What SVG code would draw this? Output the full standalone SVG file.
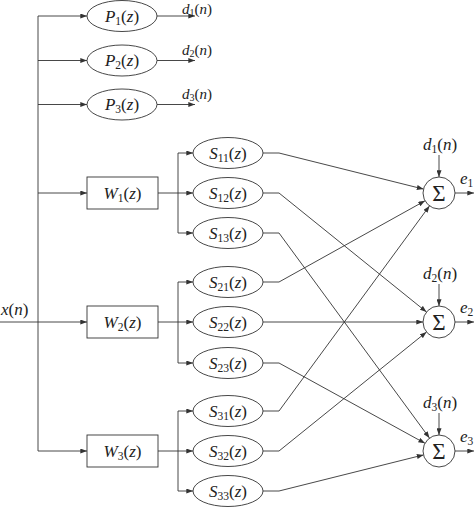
<svg xmlns="http://www.w3.org/2000/svg" width="474" height="508" viewBox="0 0 474 508">
<defs>
<style>
.ln{stroke:#333;stroke-width:0.9;fill:none}
.nd{stroke:#333;stroke-width:0.9;fill:#fff}
text{font-family:"Liberation Serif","DejaVu Serif",serif;font-size:17px;fill:#222}
.i{font-style:italic}
.s{font-size:11.5px}
.sg{font-size:23px}
.dl{font-size:15px}
.dl .s{font-size:10px}
</style>
<marker id="a" viewBox="0 0 8 6" refX="8" refY="3" markerWidth="7" markerHeight="5" orient="auto" markerUnits="userSpaceOnUse"><path d="M0,0 L8,3 L0,6 z" fill="#333"/></marker>
</defs>
<rect width="474" height="508" fill="#fff"/>
<g id="connectors">
<path class="ln" d="M38,16 V451"/>
<path class="ln" d="M38,16 H87" marker-end="url(#a)"/>
<path class="ln" d="M38,60.5 H87" marker-end="url(#a)"/>
<path class="ln" d="M38,104.5 H87" marker-end="url(#a)"/>
<path class="ln" d="M38,193 H87" marker-end="url(#a)"/>
<path class="ln" d="M0,322 H87" marker-end="url(#a)"/>
<path class="ln" d="M38,451 H87" marker-end="url(#a)"/>
<path class="ln" d="M157,16 H195" marker-end="url(#a)"/>
<path class="ln" d="M157,60.5 H195" marker-end="url(#a)"/>
<path class="ln" d="M157,104.5 H195" marker-end="url(#a)"/>
<path class="ln" d="M158,193 H193" marker-end="url(#a)"/>
<path class="ln" d="M178,153 V233"/>
<path class="ln" d="M178,153 H193" marker-end="url(#a)"/>
<path class="ln" d="M178,233 H193" marker-end="url(#a)"/>
<path class="ln" d="M158,322 H193" marker-end="url(#a)"/>
<path class="ln" d="M178,282 V363"/>
<path class="ln" d="M178,282 H193" marker-end="url(#a)"/>
<path class="ln" d="M178,363 H193" marker-end="url(#a)"/>
<path class="ln" d="M158,451 H193" marker-end="url(#a)"/>
<path class="ln" d="M178,411 V491"/>
<path class="ln" d="M178,411 H193" marker-end="url(#a)"/>
<path class="ln" d="M178,491 H193" marker-end="url(#a)"/>
<path class="ln" d="M263,153 H279 L423.5,189.1" marker-end="url(#a)"/>
<path class="ln" d="M263,193 H279 L426.5,312" marker-end="url(#a)"/>
<path class="ln" d="M263,233 H279 L429.5,438.1" marker-end="url(#a)"/>
<path class="ln" d="M263,282 H279 L425,200.8" marker-end="url(#a)"/>
<path class="ln" d="M263,322 H279 L423,322" marker-end="url(#a)"/>
<path class="ln" d="M263,363 H279 L425,443.3" marker-end="url(#a)"/>
<path class="ln" d="M263,411 H279 L429.5,205.9" marker-end="url(#a)"/>
<path class="ln" d="M263,451 H279 L426.5,332" marker-end="url(#a)"/>
<path class="ln" d="M263,491 H279 L423.5,454.9" marker-end="url(#a)"/>
<path class="ln" d="M439,155 V177" marker-end="url(#a)"/>
<path class="ln" d="M439,284 V306" marker-end="url(#a)"/>
<path class="ln" d="M439,413 V435" marker-end="url(#a)"/>
<path class="ln" d="M455,193 H474" marker-end="url(#a)"/>
<path class="ln" d="M455,322 H474" marker-end="url(#a)"/>
<path class="ln" d="M455,451 H474" marker-end="url(#a)"/>
</g>
<g id="x"><text x="1" y="315"><tspan class="i">x</tspan>(<tspan class="i">n</tspan>)</text></g>
<g id="P1"><ellipse class="nd" cx="122" cy="16" rx="35" ry="15.5"/><text x="122" y="21.5" text-anchor="middle"><tspan class="i">P</tspan><tspan class="s" dy="3">1</tspan><tspan dy="-3">(</tspan><tspan class="i">z</tspan>)</text></g>
<g id="P2"><ellipse class="nd" cx="122" cy="60.5" rx="35" ry="15.5"/><text x="122" y="66" text-anchor="middle"><tspan class="i">P</tspan><tspan class="s" dy="3">2</tspan><tspan dy="-3">(</tspan><tspan class="i">z</tspan>)</text></g>
<g id="P3"><ellipse class="nd" cx="122" cy="104.5" rx="35" ry="15.5"/><text x="122" y="110" text-anchor="middle"><tspan class="i">P</tspan><tspan class="s" dy="3">3</tspan><tspan dy="-3">(</tspan><tspan class="i">z</tspan>)</text></g>
<g id="d1out"><text class="dl" x="182" y="13.5"><tspan class="i">d</tspan><tspan class="s" dy="2">1</tspan><tspan dy="-2">(</tspan><tspan class="i">n</tspan>)</text></g>
<g id="d2out"><text class="dl" x="182" y="55"><tspan class="i">d</tspan><tspan class="s" dy="2">2</tspan><tspan dy="-2">(</tspan><tspan class="i">n</tspan>)</text></g>
<g id="d3out"><text class="dl" x="182" y="99"><tspan class="i">d</tspan><tspan class="s" dy="2">3</tspan><tspan dy="-2">(</tspan><tspan class="i">n</tspan>)</text></g>
<g id="W1"><rect class="nd" x="87" y="177" width="71" height="32"/><text x="122.5" y="198.5" text-anchor="middle"><tspan class="i">W</tspan><tspan class="s" dy="3">1</tspan><tspan dy="-3">(</tspan><tspan class="i">z</tspan>)</text></g>
<g id="W2"><rect class="nd" x="87" y="306" width="71" height="32"/><text x="122.5" y="327.5" text-anchor="middle"><tspan class="i">W</tspan><tspan class="s" dy="3">2</tspan><tspan dy="-3">(</tspan><tspan class="i">z</tspan>)</text></g>
<g id="W3"><rect class="nd" x="87" y="435" width="71" height="32"/><text x="122.5" y="456.5" text-anchor="middle"><tspan class="i">W</tspan><tspan class="s" dy="3">3</tspan><tspan dy="-3">(</tspan><tspan class="i">z</tspan>)</text></g>
<g id="S11"><ellipse class="nd" cx="228" cy="153" rx="35" ry="15.5"/><text x="228" y="158.5" text-anchor="middle"><tspan class="i">S</tspan><tspan class="s" dy="3">11</tspan><tspan dy="-3">(</tspan><tspan class="i">z</tspan>)</text></g>
<g id="S12"><ellipse class="nd" cx="228" cy="193" rx="35" ry="15.5"/><text x="228" y="198.5" text-anchor="middle"><tspan class="i">S</tspan><tspan class="s" dy="3">12</tspan><tspan dy="-3">(</tspan><tspan class="i">z</tspan>)</text></g>
<g id="S13"><ellipse class="nd" cx="228" cy="233" rx="35" ry="15.5"/><text x="228" y="238.5" text-anchor="middle"><tspan class="i">S</tspan><tspan class="s" dy="3">13</tspan><tspan dy="-3">(</tspan><tspan class="i">z</tspan>)</text></g>
<g id="S21"><ellipse class="nd" cx="228" cy="282" rx="35" ry="15.5"/><text x="228" y="287.5" text-anchor="middle"><tspan class="i">S</tspan><tspan class="s" dy="3">21</tspan><tspan dy="-3">(</tspan><tspan class="i">z</tspan>)</text></g>
<g id="S22"><ellipse class="nd" cx="228" cy="322" rx="35" ry="15.5"/><text x="228" y="327.5" text-anchor="middle"><tspan class="i">S</tspan><tspan class="s" dy="3">22</tspan><tspan dy="-3">(</tspan><tspan class="i">z</tspan>)</text></g>
<g id="S23"><ellipse class="nd" cx="228" cy="363" rx="35" ry="15.5"/><text x="228" y="368.5" text-anchor="middle"><tspan class="i">S</tspan><tspan class="s" dy="3">23</tspan><tspan dy="-3">(</tspan><tspan class="i">z</tspan>)</text></g>
<g id="S31"><ellipse class="nd" cx="228" cy="411" rx="35" ry="15.5"/><text x="228" y="416.5" text-anchor="middle"><tspan class="i">S</tspan><tspan class="s" dy="3">31</tspan><tspan dy="-3">(</tspan><tspan class="i">z</tspan>)</text></g>
<g id="S32"><ellipse class="nd" cx="228" cy="451" rx="35" ry="15.5"/><text x="228" y="456.5" text-anchor="middle"><tspan class="i">S</tspan><tspan class="s" dy="3">32</tspan><tspan dy="-3">(</tspan><tspan class="i">z</tspan>)</text></g>
<g id="S33"><ellipse class="nd" cx="228" cy="491" rx="35" ry="15.5"/><text x="228" y="496.5" text-anchor="middle"><tspan class="i">S</tspan><tspan class="s" dy="3">33</tspan><tspan dy="-3">(</tspan><tspan class="i">z</tspan>)</text></g>
<g id="Sum1"><circle class="nd" cx="439" cy="193" r="16"/><text class="sg" x="439" y="201" text-anchor="middle">Σ</text><text x="440" y="150" text-anchor="middle"><tspan class="i">d</tspan><tspan class="s" dy="3">1</tspan><tspan dy="-3">(</tspan><tspan class="i">n</tspan>)</text><text x="460" y="184"><tspan class="i">e</tspan><tspan class="s" dy="3">1</tspan></text></g>
<g id="Sum2"><circle class="nd" cx="439" cy="322" r="16"/><text class="sg" x="439" y="330" text-anchor="middle">Σ</text><text x="440" y="279" text-anchor="middle"><tspan class="i">d</tspan><tspan class="s" dy="3">2</tspan><tspan dy="-3">(</tspan><tspan class="i">n</tspan>)</text><text x="460" y="313"><tspan class="i">e</tspan><tspan class="s" dy="3">2</tspan></text></g>
<g id="Sum3"><circle class="nd" cx="439" cy="451" r="16"/><text class="sg" x="439" y="459" text-anchor="middle">Σ</text><text x="440" y="408" text-anchor="middle"><tspan class="i">d</tspan><tspan class="s" dy="3">3</tspan><tspan dy="-3">(</tspan><tspan class="i">n</tspan>)</text><text x="460" y="442"><tspan class="i">e</tspan><tspan class="s" dy="3">3</tspan></text></g>
</svg>
